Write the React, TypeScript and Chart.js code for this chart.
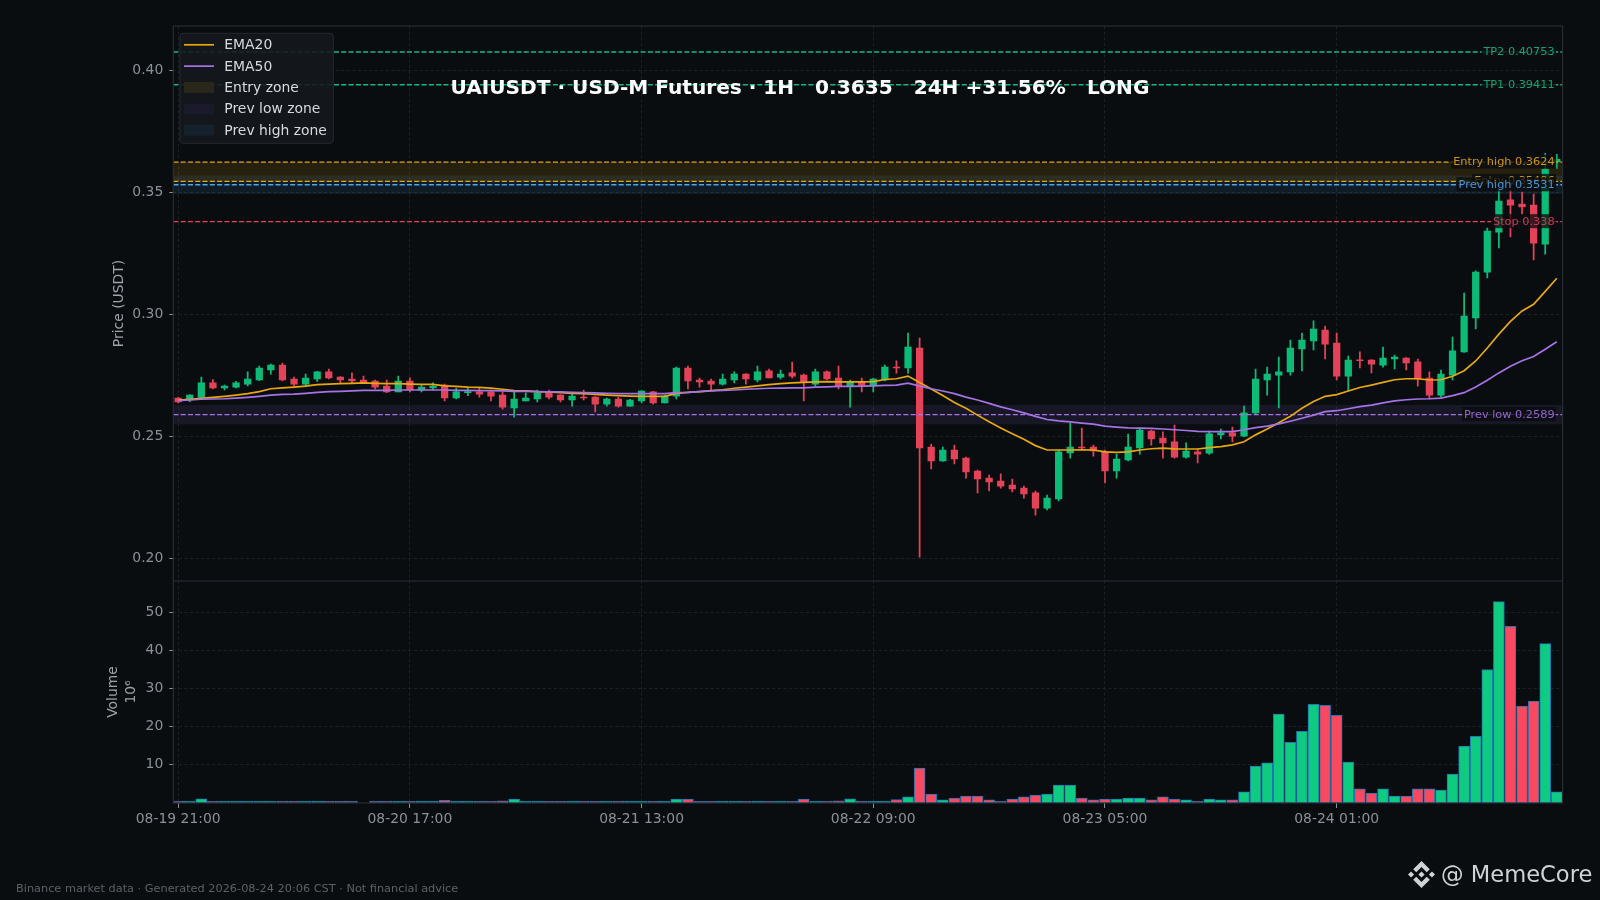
import React, { useEffect, useRef } from "react";
import { Chart, registerables } from "chart.js";

Chart.register(...registerables);

const FONT = '"DejaVu Sans", sans-serif';
const BG = "#0a0d10";

// ---- data ----
const opens = [
  0.2657, 0.2649, 0.266, 0.2719, 0.2698, 0.2702, 0.2714, 0.2731, 0.2772, 0.2792,
  0.2735, 0.2714, 0.2735, 0.2764, 0.2743, 0.2735, 0.2731, 0.2727, 0.2706, 0.2682,
  0.2727, 0.269, 0.2698, 0.271, 0.2657, 0.2679, 0.2682, 0.2682, 0.2669, 0.2616,
  0.2645, 0.2653, 0.2678, 0.2669, 0.2649, 0.2661, 0.2661, 0.2632, 0.2653, 0.2624,
  0.2645, 0.2682, 0.2637, 0.2665, 0.278, 0.2731, 0.2727, 0.2714, 0.2731, 0.2755,
  0.2731, 0.2768, 0.2743, 0.276, 0.2751, 0.2714, 0.2764, 0.2739, 0.2706, 0.2723,
  0.271, 0.2731, 0.2784, 0.278, 0.2862, 0.2456, 0.2399, 0.2444, 0.2411, 0.2358,
  0.2329, 0.2317, 0.23, 0.2288, 0.2268, 0.2206, 0.2243, 0.2432, 0.2456, 0.2456,
  0.2436, 0.2358, 0.2403, 0.2452, 0.2522, 0.2493, 0.2477, 0.2415, 0.2436, 0.2431,
  0.2506, 0.2514, 0.2501, 0.2596, 0.2731, 0.2751, 0.2764, 0.2858, 0.2891, 0.2936,
  0.2882, 0.2747, 0.2813, 0.2813, 0.2792, 0.2817, 0.2821, 0.2805, 0.2739, 0.2669,
  0.2751, 0.2846, 0.2985, 0.3173, 0.3337, 0.3469, 0.3452, 0.3448, 0.3288, 0.3625,
];
const closes = [
  0.2641, 0.2669, 0.2719, 0.2698, 0.2706, 0.2719, 0.2735, 0.278, 0.2792, 0.2731,
  0.2714, 0.2739, 0.2764, 0.2739, 0.2731, 0.2727, 0.2719, 0.2702, 0.2682, 0.2727,
  0.269, 0.2702, 0.2706, 0.2657, 0.2682, 0.2682, 0.2673, 0.2665, 0.262, 0.2653,
  0.2657, 0.2678, 0.2661, 0.2649, 0.2665, 0.2657, 0.2632, 0.2653, 0.2624, 0.2649,
  0.2686, 0.2637, 0.2665, 0.278, 0.2727, 0.2723, 0.2714, 0.2735, 0.2755, 0.2735,
  0.2764, 0.2739, 0.2755, 0.2747, 0.2723, 0.2764, 0.2735, 0.2706, 0.2723, 0.271,
  0.2735, 0.2784, 0.278, 0.2866, 0.2452, 0.2399, 0.2444, 0.2407, 0.2354, 0.2325,
  0.2313, 0.2296, 0.2284, 0.2264, 0.2206, 0.2247, 0.2436, 0.2456, 0.2452, 0.244,
  0.2358, 0.2407, 0.2456, 0.2526, 0.2489, 0.2473, 0.2415, 0.244, 0.2427, 0.251,
  0.2514, 0.2501, 0.2596, 0.2735, 0.2755, 0.2764, 0.2862, 0.2895, 0.294, 0.2878,
  0.2747, 0.2813, 0.281, 0.2796, 0.2821, 0.2825, 0.2801, 0.2735, 0.2669, 0.2755,
  0.285, 0.2993, 0.3173, 0.3341, 0.3464, 0.3448, 0.344, 0.3292, 0.3596, 0.3635,
];
const highs = [
  0.266, 0.2671, 0.2743, 0.2733, 0.271, 0.2725, 0.2764, 0.2788, 0.2796, 0.28,
  0.2743, 0.2755, 0.2766, 0.2776, 0.2745, 0.276, 0.2747, 0.2731, 0.2731, 0.2747,
  0.274, 0.271, 0.2719, 0.2714, 0.2698, 0.2702, 0.2698, 0.269, 0.2682, 0.2686,
  0.2678, 0.269, 0.269, 0.2671, 0.2673, 0.269, 0.2663, 0.2657, 0.2661, 0.2652,
  0.2688, 0.2684, 0.2669, 0.2784, 0.2788, 0.2739, 0.2735, 0.2755, 0.2764, 0.2757,
  0.2788, 0.2776, 0.2772, 0.2804, 0.2755, 0.2776, 0.2768, 0.2788, 0.2731, 0.2739,
  0.2739, 0.2792, 0.2809, 0.2923, 0.2903, 0.2468, 0.2456, 0.2464, 0.2415, 0.2362,
  0.2341, 0.2346, 0.2325, 0.2296, 0.2276, 0.2259, 0.2444, 0.2554, 0.2534, 0.2464,
  0.2444, 0.2427, 0.2509, 0.2534, 0.2526, 0.2518, 0.2546, 0.2473, 0.2448, 0.2522,
  0.253, 0.2538, 0.2624, 0.2776, 0.2784, 0.2825, 0.2895, 0.2923, 0.2973, 0.2952,
  0.2923, 0.2829, 0.2846, 0.2815, 0.2866, 0.2833, 0.2823, 0.2817, 0.2764, 0.2772,
  0.2907, 0.3087, 0.3178, 0.3354, 0.3509, 0.3509, 0.3501, 0.3493, 0.366, 0.3656,
];
const lows = [
  0.2637, 0.2642, 0.2658, 0.2694, 0.269, 0.2698, 0.2707, 0.2728, 0.2755, 0.2727,
  0.2707, 0.2706, 0.2725, 0.2735, 0.2717, 0.2717, 0.2717, 0.2694, 0.2679, 0.2682,
  0.2682, 0.2682, 0.269, 0.2645, 0.2653, 0.2667, 0.2661, 0.2645, 0.2611, 0.2579,
  0.2645, 0.2641, 0.2653, 0.2641, 0.2624, 0.2649, 0.26, 0.2624, 0.262, 0.2624,
  0.2637, 0.2632, 0.2637, 0.2653, 0.2694, 0.2702, 0.269, 0.271, 0.2719, 0.2714,
  0.2723, 0.2739, 0.2735, 0.2739, 0.2645, 0.2706, 0.2731, 0.2694, 0.262, 0.2682,
  0.2682, 0.2727, 0.2759, 0.2759, 0.2005, 0.2366, 0.2397, 0.2387, 0.2329, 0.2268,
  0.2276, 0.2288, 0.2272, 0.2247, 0.2177, 0.2198, 0.2235, 0.2411, 0.2448, 0.2419,
  0.2309, 0.2329, 0.2399, 0.2427, 0.2464, 0.2411, 0.2411, 0.2411, 0.2391, 0.2426,
  0.2489, 0.2477, 0.2499, 0.2592, 0.2669, 0.2616, 0.2751, 0.2768, 0.2854, 0.2817,
  0.2731, 0.2686, 0.278, 0.276, 0.2784, 0.2776, 0.2772, 0.2706, 0.2653, 0.2661,
  0.2731, 0.2844, 0.294, 0.3149, 0.3272, 0.3317, 0.3411, 0.3223, 0.3247, 0.3598,
];
const ema20 = [
  0.2649, 0.2652, 0.2656, 0.266, 0.2664, 0.2669, 0.2675, 0.2683, 0.2695, 0.2699,
  0.2702, 0.2706, 0.2712, 0.2714, 0.2716, 0.2717, 0.2719, 0.2717, 0.2716, 0.2716,
  0.2714, 0.2713, 0.2713, 0.2707, 0.2705, 0.2702, 0.2701, 0.2698, 0.2693, 0.2687,
  0.2686, 0.2683, 0.2682, 0.2679, 0.2676, 0.2675, 0.2672, 0.2669, 0.2667, 0.2665,
  0.2664, 0.2664, 0.2664, 0.2676, 0.268, 0.2683, 0.2687, 0.2691, 0.2697, 0.2702,
  0.2707, 0.2712, 0.2716, 0.2719, 0.2721, 0.2723, 0.2724, 0.2723, 0.2723, 0.2723,
  0.2724, 0.2733, 0.2736, 0.2747, 0.2721, 0.2694, 0.2667, 0.2639, 0.2615, 0.2587,
  0.256, 0.2534, 0.2511, 0.2488, 0.2462, 0.2444, 0.2444, 0.2444, 0.2445, 0.2444,
  0.2436, 0.2434, 0.2436, 0.2444, 0.2449, 0.2452, 0.2449, 0.2448, 0.2448, 0.2454,
  0.2458, 0.2465, 0.2478, 0.2506, 0.253, 0.2556, 0.2582, 0.2615, 0.2643, 0.2664,
  0.2671, 0.2686, 0.27, 0.271, 0.2721, 0.2732, 0.2736, 0.2736, 0.2731, 0.2732,
  0.2746, 0.2769, 0.2809, 0.2862, 0.2919, 0.2971, 0.3014, 0.3041, 0.3094, 0.3148,
];
const ema50 = [
  0.2646, 0.2649, 0.2652, 0.2653, 0.2654, 0.2657, 0.266, 0.2664, 0.2669, 0.2672,
  0.2673, 0.2676, 0.268, 0.2683, 0.2684, 0.2686, 0.2688, 0.2688, 0.2688, 0.269,
  0.269, 0.269, 0.269, 0.269, 0.2688, 0.2688, 0.2687, 0.2687, 0.2686, 0.2684,
  0.2684, 0.2683, 0.2682, 0.2682, 0.268, 0.2679, 0.2678, 0.2676, 0.2675, 0.2675,
  0.2675, 0.2675, 0.2675, 0.2679, 0.268, 0.2683, 0.2686, 0.2688, 0.269, 0.2693,
  0.2695, 0.2697, 0.2698, 0.2699, 0.2699, 0.2702, 0.2703, 0.2705, 0.2705, 0.2706,
  0.2707, 0.2709, 0.271, 0.2718, 0.2706, 0.2695, 0.2686, 0.2675, 0.2661, 0.2649,
  0.2635, 0.2621, 0.2609, 0.2596, 0.2582, 0.2569, 0.2563, 0.2559, 0.2554, 0.255,
  0.2542, 0.2538, 0.2535, 0.2534, 0.2533, 0.253, 0.2527, 0.2524, 0.252, 0.2519,
  0.2519, 0.2519, 0.2527, 0.2536, 0.2542, 0.2551, 0.2562, 0.2574, 0.2587, 0.2601,
  0.2605, 0.2613, 0.2622, 0.2628, 0.2637, 0.2645, 0.265, 0.2653, 0.2654, 0.2657,
  0.2667, 0.2679, 0.2702, 0.273, 0.276, 0.2787, 0.281, 0.2827, 0.2857, 0.2888,
];
const volumes = [
  0.1, 0.1, 1.1, 0.4, 0.1, 0.1, 0.1, 0.1, 0.3, 0.1,
  0.35, 0.1, 0.1, 0.1, 0.1, 0.1, null, 0.1, 0.3, 0.1,
  0.1, 0.1, 0.1, 0.7, 0.1, 0.1, 0.1, 0.1, 0.6, 1.0,
  0.1, 0.1, 0.1, 0.1, 0.1, 0.1, 0.3, 0.1, 0.1, 0.1,
  0.1, 0.1, 0.1, 1.0, 1.0, 0.1, 0.4, 0.1, 0.1, 0.1,
  0.3, 0.3, 0.1, 0.3, 1.0, 0.1, 0.1, 0.6, 1.1, 0.35,
  0.4, 0.4, 0.9, 1.6, 9.15, 2.35, 0.8, 1.3, 1.8, 1.8,
  0.8, 0.5, 1.05, 1.6, 2.1, 2.35, 4.7, 4.7, 1.3, 0.8,
  1.05, 1.05, 1.3, 1.3, 0.8, 1.6, 1.05, 0.8, 0.5, 1.05,
  0.8, 0.8, 2.9, 9.7, 10.5, 23.3, 15.9, 18.8, 25.9, 25.6,
  23.0, 10.7, 3.7, 2.6, 3.7, 1.8, 1.8, 3.7, 3.7, 3.4,
  7.6, 14.9, 17.5, 35.0, 52.8, 46.3, 25.4, 26.7, 41.8, 2.9,
];
const xTickIndexes = [0, 20, 40, 60, 80, 100];
const xTickLabels = ["08-19 21:00", "08-20 17:00", "08-21 13:00", "08-22 09:00", "08-23 05:00", "08-24 01:00"];
const priceTicks = [0.2, 0.25, 0.3, 0.35, 0.4];
const volumeTicks = [10, 20, 30, 40, 50];

const levelNames = ["TP2 0.40753", "TP1 0.39411", "Entry high 0.3624", "Entry 0.35486", "Prev high 0.3531", "Stop 0.338", "Prev low 0.2589"];
const levelValues = [0.40753, 0.39411, 0.3624, 0.3545, 0.3531, 0.338, 0.2589];
const levelColors = ["#10b981", "#10b981", "#e6a80c", "#e6a80c", "#4ea6ee", "#e5405e", "#a673e6"];

const zoneNames = ["Entry zone", "Prev low zone", "Prev high zone"];
const zoneLows = [0.3545, 0.255, 0.3493];
const zoneHighs = [0.3624, 0.2628, 0.3569];
const zoneFills = ["rgba(230,168,12,0.13)", "rgba(150,120,240,0.10)", "rgba(78,166,238,0.10)"];
const zoneSwatches = ["#29261a", "#1a1a2c", "#15222e"];

const TITLE = "UAIUSDT · USD-M Futures · 1H   0.3635   24H +31.56%   LONG";
const FOOTER = "Binance market data · Generated 2026-08-24 20:06 CST · Not financial advice";

const X_MIN = -0.42;
const X_MAX = 119.5;
const Y_MIN = 0.1907;
const Y_MAX = 0.4182;
const V_MIN = 0;
const V_MAX = 58.2;

const idx = opens.map((_, i) => i);

const overlay = {
  id: "overlay",
  afterDatasetsDraw(chart: any) {
    const { ctx, chartArea: a, scales } = chart;
    ctx.save();
    // panel spines
    ctx.strokeStyle = "#2b2f36";
    ctx.lineWidth = 1.1;
    const split = scales.v.top;
    ctx.strokeRect(a.left, a.top, a.right - a.left, a.bottom - a.top);
    ctx.beginPath();
    ctx.moveTo(a.left, split);
    ctx.lineTo(a.right, split);
    ctx.stroke();

    // level labels
    ctx.font = `11.3px ${FONT}`;
    ctx.textBaseline = "middle";
    ctx.textAlign = "right";
    const tx = a.right - 8;
    levelNames.forEach((name, i) => {
      const y = scales.y.getPixelForValue(levelValues[i]);
      const w = ctx.measureText(name).width;
      ctx.fillStyle = "rgba(10,13,16,0.78)";
      ctx.fillRect(tx - w - 2, y - 7.5, w + 3.5, 14);
      ctx.globalAlpha = 0.88;
      ctx.fillStyle = levelColors[i];
      ctx.fillText(name, tx, y);
      ctx.globalAlpha = 1;
    });

    // title
    ctx.font = `bold 20.1px ${FONT}`;
    ctx.fillStyle = "#ffffff";
    ctx.textAlign = "center";
    ctx.textBaseline = "middle";
    ctx.fillText(TITLE, 800, 88.5);

    // legend
    const lx = 180, ly = 33.3, lw = 153.3, lh = 110;
    ctx.fillStyle = "rgba(21,24,29,0.88)";
    ctx.strokeStyle = "#262a30";
    ctx.lineWidth = 1;
    ctx.beginPath();
    ctx.roundRect(lx, ly, lw, lh, 3);
    ctx.fill();
    ctx.stroke();
    ctx.font = `13.9px ${FONT}`;
    ctx.textAlign = "left";
    const rows = ["EMA20", "EMA50", ...zoneNames];
    rows.forEach((name, i) => {
      const y = 44.8 + i * 21.35;
      if (i === 0 || i === 1) {
        ctx.strokeStyle = i === 0 ? "#e6a80c" : "#a673e6";
        ctx.lineWidth = 1.7;
        ctx.beginPath();
        ctx.moveTo(184, y);
        ctx.lineTo(214, y);
        ctx.stroke();
      } else {
        ctx.fillStyle = zoneSwatches[i - 2];
        ctx.fillRect(184, y - 5.5, 30, 11);
      }
      ctx.fillStyle = "#d8dade";
      ctx.fillText(name, 224.3, y + 1);
    });
    ctx.restore();
  },
};

export default function App() {
  const ref = useRef<HTMLCanvasElement>(null);
  useEffect(() => {
    document.body.style.margin = "0";
    document.body.style.background = BG;
    const bodyColors = idx.map((i) => (closes[i] >= opens[i] ? "#0dbb78" : "#e34258"));
    const volColors = idx.map((i) => (closes[i] >= opens[i] ? "#0ecb81" : "#f84960"));
    const zoneSets = zoneNames.map((name, i) => ({
      type: "line",
      label: name,
      xAxisID: "x",
      yAxisID: "y",
      data: [{ x: X_MIN, y: zoneHighs[i] }, { x: X_MAX, y: zoneHighs[i] }],
      borderWidth: 0,
      pointRadius: 0,
      fill: { value: zoneLows[i] },
      backgroundColor: zoneFills[i],
      order: 50,
    }));
    const levelSets = levelNames.map((name, i) => ({
      type: "line",
      label: name,
      xAxisID: "x",
      yAxisID: "y",
      data: [{ x: X_MIN, y: levelValues[i] }, { x: X_MAX, y: levelValues[i] }],
      borderColor: levelColors[i],
      borderWidth: 1.4,
      borderDash: [5.1, 2.2],
      pointRadius: 0,
      fill: false,
      order: 20,
    }));
    const chart = new Chart(ref.current as HTMLCanvasElement, {
      type: "bar",
      data: {
        datasets: [
          ...zoneSets,
          {
            type: "bar",
            label: "Wicks",
            xAxisID: "x",
            yAxisID: "y",
            data: idx.map((i) => ({ x: i, y: [lows[i], highs[i]] })),
            backgroundColor: bodyColors,
            borderWidth: 0,
            barThickness: 1.1,
            grouped: false,
            order: 40,
          },
          {
            type: "bar",
            label: "Candles",
            xAxisID: "x",
            yAxisID: "y",
            data: idx.map((i) => ({ x: i, y: [opens[i], closes[i]] })),
            backgroundColor: bodyColors,
            borderWidth: 0,
            barThickness: 6.6,
            minBarLength: 1,
            grouped: false,
            order: 30,
          },
          ...levelSets,
          {
            type: "line",
            label: "EMA50",
            xAxisID: "x",
            yAxisID: "y",
            data: idx.map((i) => ({ x: i, y: ema50[i] })),
            borderColor: "#a673e6",
            borderWidth: 1.7,
            pointRadius: 0,
            tension: 0,
            fill: false,
            order: 10,
          },
          {
            type: "line",
            label: "EMA20",
            xAxisID: "x",
            yAxisID: "y",
            data: idx.map((i) => ({ x: i, y: ema20[i] })),
            borderColor: "#e6a80c",
            borderWidth: 1.7,
            pointRadius: 0,
            tension: 0,
            fill: false,
            order: 11,
          },
          {
            type: "bar",
            label: "Volume",
            xAxisID: "x",
            yAxisID: "v",
            data: idx.map((i) => ({ x: i, y: volumes[i] })),
            backgroundColor: volColors,
            borderColor: "#1f77b4",
            borderWidth: 1,
            borderSkipped: false,
            barThickness: 11,
            minBarLength: 2,
            grouped: false,
            order: 30,
          },
        ],
      } as any,
      options: {
        responsive: false,
        animation: false,
        devicePixelRatio: 1,
        layout: { padding: { left: 73.3, right: 37.4, top: 26, bottom: 57 } },
        plugins: { legend: { display: false }, tooltip: { enabled: false }, title: { display: false } },
        scales: {
          x: {
            type: "linear",
            position: "bottom",
            offset: false,
            min: X_MIN,
            max: X_MAX,
            afterBuildTicks: (s: any) => {
              s.ticks = xTickIndexes.map((value) => ({ value }));
            },
            afterFit: (s: any) => {
              s.height = 40;
            },
            ticks: {
              autoSkip: false,
              maxRotation: 0,
              padding: 3,
              color: "#8b9199",
              font: { family: FONT, size: 13.9 },
              callback: (v: any) => xTickLabels[xTickIndexes.indexOf(Number(v))],
            },
            grid: { offset: false, color: "#1b2026", lineWidth: 1, tickColor: "#8b9199", tickLength: 5 },
            border: { display: false, dash: [3.2, 2.4] },
          },
          v: {
            type: "linear",
            position: "left",
            stack: "panels",
            stackWeight: 222,
            min: V_MIN,
            max: V_MAX,
            afterBuildTicks: (s: any) => {
              s.ticks = volumeTicks.map((value) => ({ value }));
            },
            afterFit: (s: any) => {
              s.width = 100;
            },
            ticks: {
              padding: 6,
              color: "#8b9199",
              font: { family: FONT, size: 13.9 },
              callback: (v: any) => String(v),
            },
            title: {
              display: true,
              text: ["Volume", "10⁶"],
              color: "#9ea3aa",
              font: { family: FONT, size: 13.9, weight: "normal", lineHeight: 1.3 },
              padding: { top: 31, bottom: 0 },
            },
            grid: { color: "#1b2026", lineWidth: 1, tickColor: "#8b9199", tickLength: 4 },
            border: { display: false, dash: [3.2, 2.4] },
          },
          y: {
            type: "linear",
            position: "left",
            stack: "panels",
            stackWeight: 555,
            min: Y_MIN,
            max: Y_MAX,
            afterBuildTicks: (s: any) => {
              s.ticks = priceTicks.map((value) => ({ value }));
            },
            afterFit: (s: any) => {
              s.width = 100;
            },
            ticks: {
              padding: 6,
              color: "#8b9199",
              font: { family: FONT, size: 13.9 },
              callback: (v: any) => Number(v).toFixed(2),
            },
            title: {
              display: true,
              text: "Price (USDT)",
              color: "#9ea3aa",
              font: { family: FONT, size: 13.9, weight: "normal" },
              padding: { top: 38, bottom: 0 },
            },
            grid: { color: "#1b2026", lineWidth: 1, tickColor: "#8b9199", tickLength: 4 },
            border: { display: false, dash: [3.2, 2.4] },
          },
        },
      } as any,
      plugins: [overlay],
    });
    return () => chart.destroy();
  }, []);

  return (
    <div style={{ position: "fixed", left: 0, top: 0, width: 1600, height: 900, background: BG, overflow: "hidden" }}>
      <canvas ref={ref} width={1600} height={900} style={{ display: "block", width: 1600, height: 900 }} />
      <div style={{ position: "absolute", left: 16, top: 882, font: `11.3px ${FONT}`, color: "#5c6168", whiteSpace: "nowrap", lineHeight: "14px" }}>{FOOTER}</div>
      <svg viewBox="0 0 126.61 126.61" width="27" height="27" style={{ position: "absolute", left: 1408, top: 860.5 }}>
        <path fill="#cfd2d6" d="M38.73 53.2l24.59-24.58 24.6 24.6 14.3-14.31L63.32 0 24.43 38.9zM0 63.31l14.3-14.31 14.31 14.31L14.3 77.61zM38.73 73.41l24.59 24.59 24.6-24.6 14.31 14.29-38.9 38.91L24.42 87.7zM98.01 63.32l14.3-14.31 14.3 14.3-14.3 14.3zM77.83 63.3l-14.51-14.52-10.73 10.73-1.24 1.23-2.54 2.54 14.51 14.5 14.51-14.48z" />
      </svg>
      <div style={{ position: "absolute", left: 1441, top: 859, font: `22.6px ${FONT}`, color: "#cfd2d6", whiteSpace: "nowrap", lineHeight: "30px" }}>@ MemeCore</div>
    </div>
  );
}
